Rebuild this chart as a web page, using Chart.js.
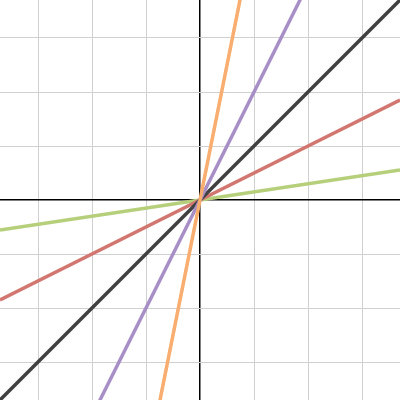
<!DOCTYPE html>
<html><head><meta charset="utf-8">
<script src="https://cdn.jsdelivr.net/npm/chart.js@4"></script>
<style>html,body{margin:0;padding:0;background:#fff}#w{width:400px;height:400px}</style>
</head><body><div id="w"><canvas id="c"></canvas></div>
<script>
const R = 200/54;
const xEnds = [-R, R];
const slopes = [0.15, 0.5, 1, 2, 5];
const colors = ['#b5cf7b', '#d27670', '#404040', '#a78ec4', '#f9ad6f'];
const gridTicks = [-3, -2, -1, 0, 1, 2, 3];
const datasets = slopes.map((m, i) => ({
  data: xEnds.map(x => ({x: x, y: m * x})),
  borderColor: colors[i], borderWidth: 3.5, showLine: true, pointRadius: 0, fill: false
}));
function axis() {
  return {
    type: 'linear', min: -R, max: R,
    afterBuildTicks: s => { s.ticks = gridTicks.map(v => ({value: v})); },
    ticks: {display: false},
    border: {display: false},
    grid: {color: c => c.tick && c.tick.value === 0 ? '#000' : '#d0d0d0', lineWidth: c => c.tick && c.tick.value === 0 ? 1.5 : 1, drawTicks: false}
  };
}
new Chart(document.getElementById('c'), {
  type: 'scatter',
  data: {datasets: datasets.reverse()},
  options: {
    responsive: true, maintainAspectRatio: false, animation: false,
    layout: {padding: 0},
    plugins: {legend: {display: false}, tooltip: {enabled: false}},
    scales: {x: axis(), y: axis()}
  }
});
</script></body></html>
